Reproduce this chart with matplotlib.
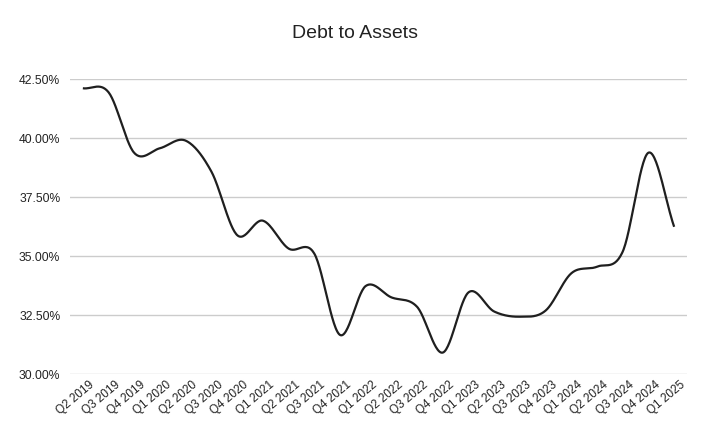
import numpy as np
import matplotlib
matplotlib.use("Agg")
import matplotlib.pyplot as plt
import matplotlib.transforms as mtransforms
from matplotlib.ticker import FuncFormatter

plt.rcParams['font.family'] = ['Liberation Sans', 'DejaVu Sans']

# Datos del gráfico
trimestres = ['Q2 2019', 'Q3 2019', 'Q4 2019', 'Q1 2020', 'Q2 2020', 'Q3 2020',
              'Q4 2020', 'Q1 2021', 'Q2 2021', 'Q3 2021', 'Q4 2021', 'Q1 2022',
              'Q2 2022', 'Q3 2022', 'Q4 2022', 'Q1 2023', 'Q2 2023', 'Q3 2023',
              'Q4 2023', 'Q1 2024', 'Q2 2024', 'Q3 2024', 'Q4 2024', 'Q1 2025']
deuda_activos = [42.12, 41.95, 39.38, 39.58, 39.90, 38.59, 35.90, 36.51,
                 35.33, 35.12, 31.67, 33.74, 33.26, 32.86, 30.92, 33.47,
                 32.66, 32.44, 32.70, 34.28, 34.56, 35.20, 39.39, 36.25]
ticks_y = [30.0, 32.5, 35.0, 37.5, 40.0, 42.5]


# Curva suave tipo Catmull-Rom que pasa por los puntos
def suavizar(x, y, n=30):
    x = np.asarray(x, float)
    y = np.asarray(y, float)
    px = np.concatenate([[2 * x[0] - x[1]], x, [2 * x[-1] - x[-2]]])
    py = np.concatenate([[2 * y[0] - y[1]], y, [2 * y[-1] - y[-2]]])
    xs, ys = [], []
    t = np.linspace(0, 1, n, endpoint=False)
    for i in range(1, len(px) - 2):
        for arr, out in ((px, xs), (py, ys)):
            p0, p1, p2, p3 = arr[i - 1], arr[i], arr[i + 1], arr[i + 2]
            out.append(0.5 * ((2 * p1) + (-p0 + p2) * t
                              + (2 * p0 - 5 * p1 + 4 * p2 - p3) * t ** 2
                              + (-p0 + 3 * p1 - 3 * p2 + p3) * t ** 3))
    xs.append([x[-1]])
    ys.append([y[-1]])
    return np.concatenate(xs), np.concatenate(ys)


fig = plt.figure(figsize=(7.10, 4.41), dpi=100)
ax = fig.add_axes([70 / 710, 1 - 374.3 / 441, 617 / 710, 295 / 441])

pos = np.arange(len(trimestres))
xs, ys = suavizar(pos, deuda_activos)
ax.plot(xs, ys, color='#1f1f1f', linewidth=1.6, solid_capstyle='butt', zorder=3)

ax.set_xlim(-0.5, len(trimestres) - 0.5)
ax.set_ylim(30, 42.5)
ax.set_yticks(ticks_y)
ax.yaxis.set_major_formatter(FuncFormatter(lambda v, p: f'{v:.2f}%'))
ax.grid(axis='y', color='#cccccc', linewidth=1)
ax.set_axisbelow(True)
for s in ax.spines.values():
    s.set_visible(False)
ax.tick_params(axis='y', length=0, pad=7, labelsize=8.7, labelcolor='#222222')
ax.tick_params(axis='x', length=0, pad=3, labelsize=8.5, labelcolor='#222222')
ax.set_xticks(pos)
ax.set_xticklabels(trimestres, rotation=40, ha='right', rotation_mode='anchor')

# desplazar un poco las etiquetas del eje x a la derecha
desplazamiento = mtransforms.ScaledTranslation(6 / 100, 0, fig.dpi_scale_trans)
for lbl in ax.get_xticklabels():
    lbl.set_transform(lbl.get_transform() + desplazamiento)

fig.text(0.5, 1 - 33 / 441, 'Debt to Assets', ha='center', va='center',
         fontsize=14, color='#222222')

fig.savefig('out.png', dpi=100, facecolor='white')
